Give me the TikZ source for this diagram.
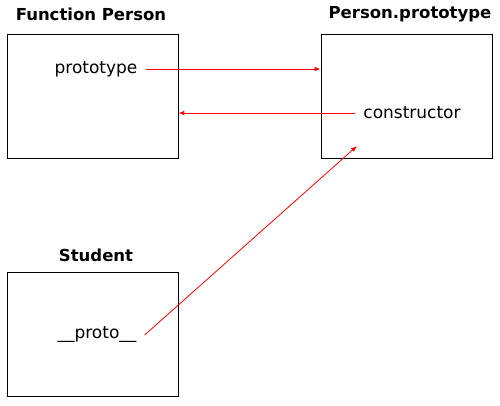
\documentclass[tikz,border=0pt]{standalone}
\usepackage{fontspec}
\setmainfont{DejaVu Sans}
\usetikzlibrary{arrows.meta}
\tikzset{
  objbox/.style = {rectangle, draw, thick, minimum width=171pt, minimum height=124pt},
  titel/.style  = {font=\fontsize{16.5}{19}\selectfont\bfseries},
  prop/.style   = {font=\fontsize{17}{20}\selectfont, inner sep=8pt},
  link/.style   = {red, line width=0.8pt, -{Latex[length=6pt,width=4.5pt]}}
}
\begin{document}
\begin{tikzpicture}[x=1pt,y=-1pt]
  \useasboundingbox (0,0) rectangle (500,405);
  % boxes
  \node[objbox] (fperson) at (92.5,96) {};
  \node[objbox] (pproto)  at (406.5,96) {};
  \node[objbox] (student) at (92.5,334) {};
  % titles
  \node[titel] (tf) at (91,14)  {Function Person};
  \node[titel] (tp) at (410,14) {Person.prototype};
  \node[titel] (ts) at (96,255) {Student};
  % properties
  \node[prop] (prototype)   at (96,69)   {prototype};
  \node[prop] (constructor) at (412,113) {constructor};
  \node[prop] (dunder)      at (97,335)  {\_\_proto\_\_};
  \coordinate (tip) at (357,146);
  % links
  \draw[link] (prototype.east) -- (prototype.east -| pproto.west);
  \draw[link] (constructor.west) -- (constructor.west -| fperson.east);
  \draw[link] (dunder.east) -- (tip);
\end{tikzpicture}
\end{document}
